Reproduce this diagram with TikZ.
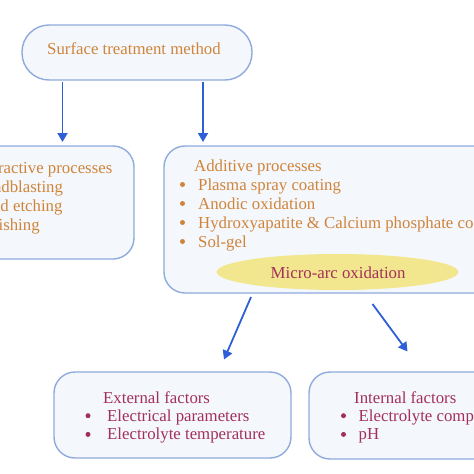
\documentclass[tikz,border=0pt]{standalone}
\usepackage{fontspec}
\setmainfont{Liberation Serif}
\usetikzlibrary{arrows.meta,shapes.geometric}
\definecolor{boxline}{HTML}{8FAADC}
\definecolor{boxfill}{HTML}{F4F8FD}
\definecolor{arrowblue}{HTML}{2E5FD6}
\definecolor{txtorange}{HTML}{D0843A}
\definecolor{txtred}{HTML}{A3305A}
\definecolor{ovalfill}{HTML}{F2E78E}
\tikzset{
	panel/.style={draw=boxline, fill=boxfill, line width=1.4pt},
	flow/.style={draw=arrowblue, line width=1.8pt, -{Triangle[length=9pt,width=10pt]}},
	line/.style={anchor=base west, inner sep=0pt, font=\fontsize{16.8}{19}\selectfont},
	dot/.style={circle, inner sep=0pt, minimum size=5pt}
}
\begin{document}
\begin{tikzpicture}[x=1pt, y=-1pt]
		\useasboundingbox (0,0) rectangle (474,474);
		\clip (0,0) rectangle (474,474);
		\def \r{21}
		% boxes
		\draw[panel, rounded corners=27pt] (22,25) rectangle (252,80);
		\draw[panel, rounded corners=\r pt] (-40,146) rectangle (134,259);
		\draw[panel, rounded corners=\r pt] (164,146) rectangle (520,293);
		\draw[panel, rounded corners=\r pt] (54,372) rectangle (291,458);
		\draw[panel, rounded corners=\r pt] (309,372) rectangle (520,459);
		\node[ellipse, fill=ovalfill, minimum width=242pt, minimum height=36pt, inner sep=0pt] (mao) at (337.5,272) {};
		% texts
		\node[line, txtorange] (top) at (47,54) {Surface treatment method};
		\node[line, txtorange] (sub) at (-33,173) {Subtractive processes};
		\foreach \t [count=\i] in {Sandblasting, Acid etching, Polishing}
			\node[line, txtorange] (sub\i) at (-24,173+19*\i) {\t};
		\node[line, txtorange] (add) at (194,171) {Additive processes};
		\foreach \t [count=\i] in {Plasma spray coating, Anodic oxidation,
			Hydroxyapatite \& Calcium phosphate coating, Sol-gel} {
			\node[line, txtorange] (add\i) at (198,171+19*\i) {\t};
			\node[dot, fill=txtorange] (addb\i) at (182.5,165.5+19*\i) {};
		}
		\node[line, txtred] (maotxt) at (270.5,278.5) {Micro-arc oxidation};
		\node[line, txtred] (ext) at (103,403) {External factors};
		\foreach \t [count=\i] in {Electrical parameters, Electrolyte temperature} {
			\node[line, txtred] (ext\i) at (107,402.5+18.7*\i) {\t};
			\node[dot, fill=txtred] (extb\i) at (88,397+18.7*\i) {};
		}
		\node[line, txtred] (int) at (354,403) {Internal factors};
		\foreach \t [count=\i] in {Electrolyte composition, pH} {
			\node[line, txtred] (int\i) at (358.5,402.5+18.7*\i) {\t};
			\node[dot, fill=txtred] (intb\i) at (343.5,397+18.7*\i) {};
		}
		% connectors
		\coordinate (a1) at (62.5,82);
		\coordinate (b1) at (62.5,142);
		\coordinate (a2) at (203,82);
		\coordinate (b2) at (203,142);
		\coordinate (a3) at (251,297);
		\coordinate (b3) at (224,359.5);
		\coordinate (a4) at (372.5,304);
		\coordinate (b4) at (407.5,351.5);
		\draw[flow] (a1) -- (b1);
		\draw[flow] (a2) -- (b2);
		\draw[flow] (a3) -- (b3);
		\draw[flow] (a4) -- (b4);
	\end{tikzpicture}
\end{document}
